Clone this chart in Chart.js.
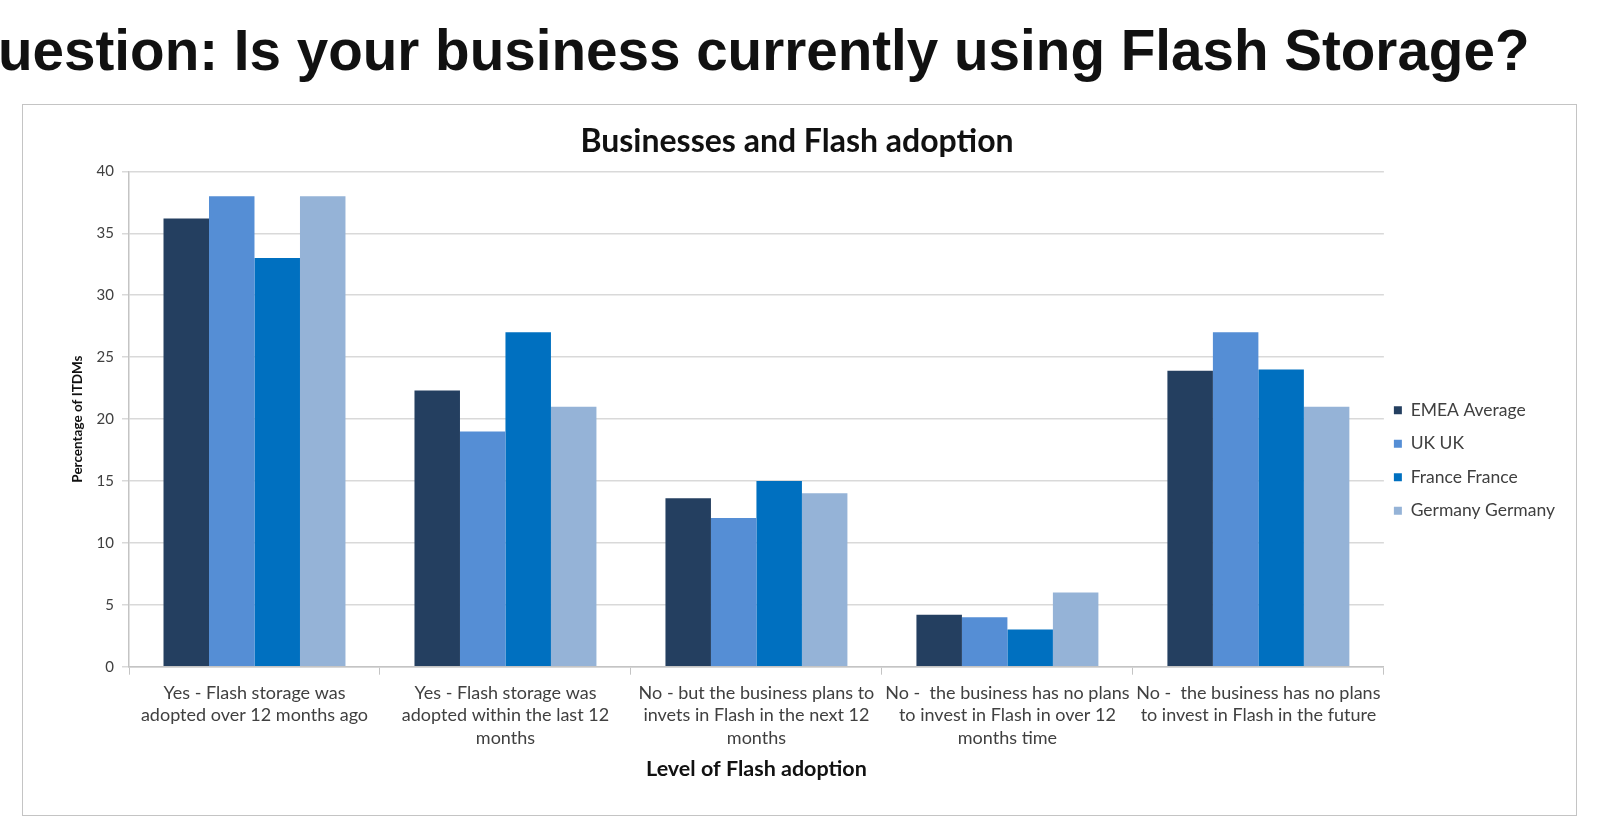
<!DOCTYPE html>
<html>
<head>
<meta charset="utf-8">
<script src="https://cdn.jsdelivr.net/npm/chart.js@4/dist/chart.umd.min.js"></script>
<style>
  html, body { margin: 0; padding: 0; background: #fff; width: 1600px; height: 836px; overflow: hidden; }
  #headline { position: absolute; left: -2px; top: 23px; margin: 0; font-family: "Liberation Sans", Arial, sans-serif; font-weight: bold; font-size: 56.6px; line-height: 1; color: #111; white-space: nowrap; }
  #frame { position: absolute; left: 22px; top: 104px; width: 1553px; height: 710px; border: 1.5px solid #c4c4c4; background: #fff; }
  #c { display: block; }
</style>
</head>
<body>
<h1 id="headline">uestion: Is your business currently using Flash Storage?</h1>
<div id="frame"><canvas id="c" width="1553" height="710"></canvas></div>
<script>
const categories = [
  ["Yes - Flash storage was", "adopted over 12 months ago"],
  ["Yes - Flash storage was", "adopted within the last 12", "months"],
  ["No - but the business plans to", "invets in Flash in the next 12", "months"],
  ["No -  the business has no plans", "to invest in Flash in over 12", "months time"],
  ["No -  the business has no plans", "to invest in Flash in the future"]
];
const seriesNames = ["EMEA Average", "UK UK", "France France", "Germany Germany"];
const emea = [36.2, 22.3, 13.6, 4.2, 23.9];
const uk = [38, 19, 12, 4, 27];
const france = [33, 27, 15, 3, 24];
const germany = [38, 21, 14, 6, 21];
const yTicks = [0, 5, 10, 15, 20, 25, 30, 35, 40];
const colors = ["#243F60", "#558ED5", "#0070C0", "#95B3D7"];

const seriesValues = [emea, uk, france, germany];
const FONT = "Lato, 'Open Sans', sans-serif";

const legendShift = {
  id: "legendShift",
  afterLayout(chart) {
    const lg = chart.legend;
    if (!lg) return;
    lg.top += 10; lg.bottom += 10;
    lg.left -= 6; lg.right -= 6;
  }
};

new Chart(document.getElementById("c"), {
  type: "bar",
  data: {
    labels: categories,
    datasets: seriesNames.map((n, i) => ({
      label: n,
      data: seriesValues[i],
      backgroundColor: colors[i],
      borderWidth: 0,
      barPercentage: 1.0,
      categoryPercentage: 0.725
    }))
  },
  plugins: [legendShift],
  options: {
    responsive: false,
    animation: false,
    devicePixelRatio: 1,
    layout: { padding: { left: 0, right: 5, top: 14, bottom: 33 } },
    plugins: {
      title: {
        display: true,
        text: "Businesses and Flash adoption",
        color: "#111",
        font: { family: FONT, size: 32, weight: "bold" },
        padding: { top: 3, bottom: 11 }
      },
      legend: {
        position: "right",
        labels: {
          boxWidth: 8, boxHeight: 8,
          color: "#404040",
          padding: 16,
          font: { family: FONT, size: 17.5 }
        }
      },
      tooltip: { enabled: false }
    },
    scales: {
      x: {
        offset: true,
        grid: { display: true, drawOnChartArea: false, drawTicks: true, tickLength: 8, color: "#c4c4c4", offset: true },
        border: { display: true, color: "#c4c4c4", width: 1.5 },
        ticks: {
          color: "#404040", maxRotation: 0, autoSkip: false, padding: 7,
          font: { family: FONT, size: 18, lineHeight: 1.25 }
        },
        title: {
          display: true, text: "Level of Flash adoption", color: "#111",
          font: { family: FONT, size: 21.5, weight: "bold" },
          padding: { top: 0, bottom: 0 }
        }
      },
      y: {
        min: 0, max: 40,
        afterFit: (s) => { s.width = 106; },
        afterBuildTicks: (axis) => { axis.ticks = yTicks.map(v => ({ value: v })); },
        grid: { color: "#d9d9d9", lineWidth: 1.5, drawTicks: true, tickLength: 7 },
        border: { display: true, color: "#c4c4c4", width: 1.5 },
        ticks: {
          color: "#404040", padding: 8,
          font: { family: FONT, size: 15 }
        },
        title: {
          display: true, text: "Percentage of ITDMs", color: "#111",
          font: { family: FONT, size: 13.5, weight: "bold" },
          padding: { top: 47, bottom: 0 }
        }
      }
    }
  }
});
</script>
</body>
</html>
